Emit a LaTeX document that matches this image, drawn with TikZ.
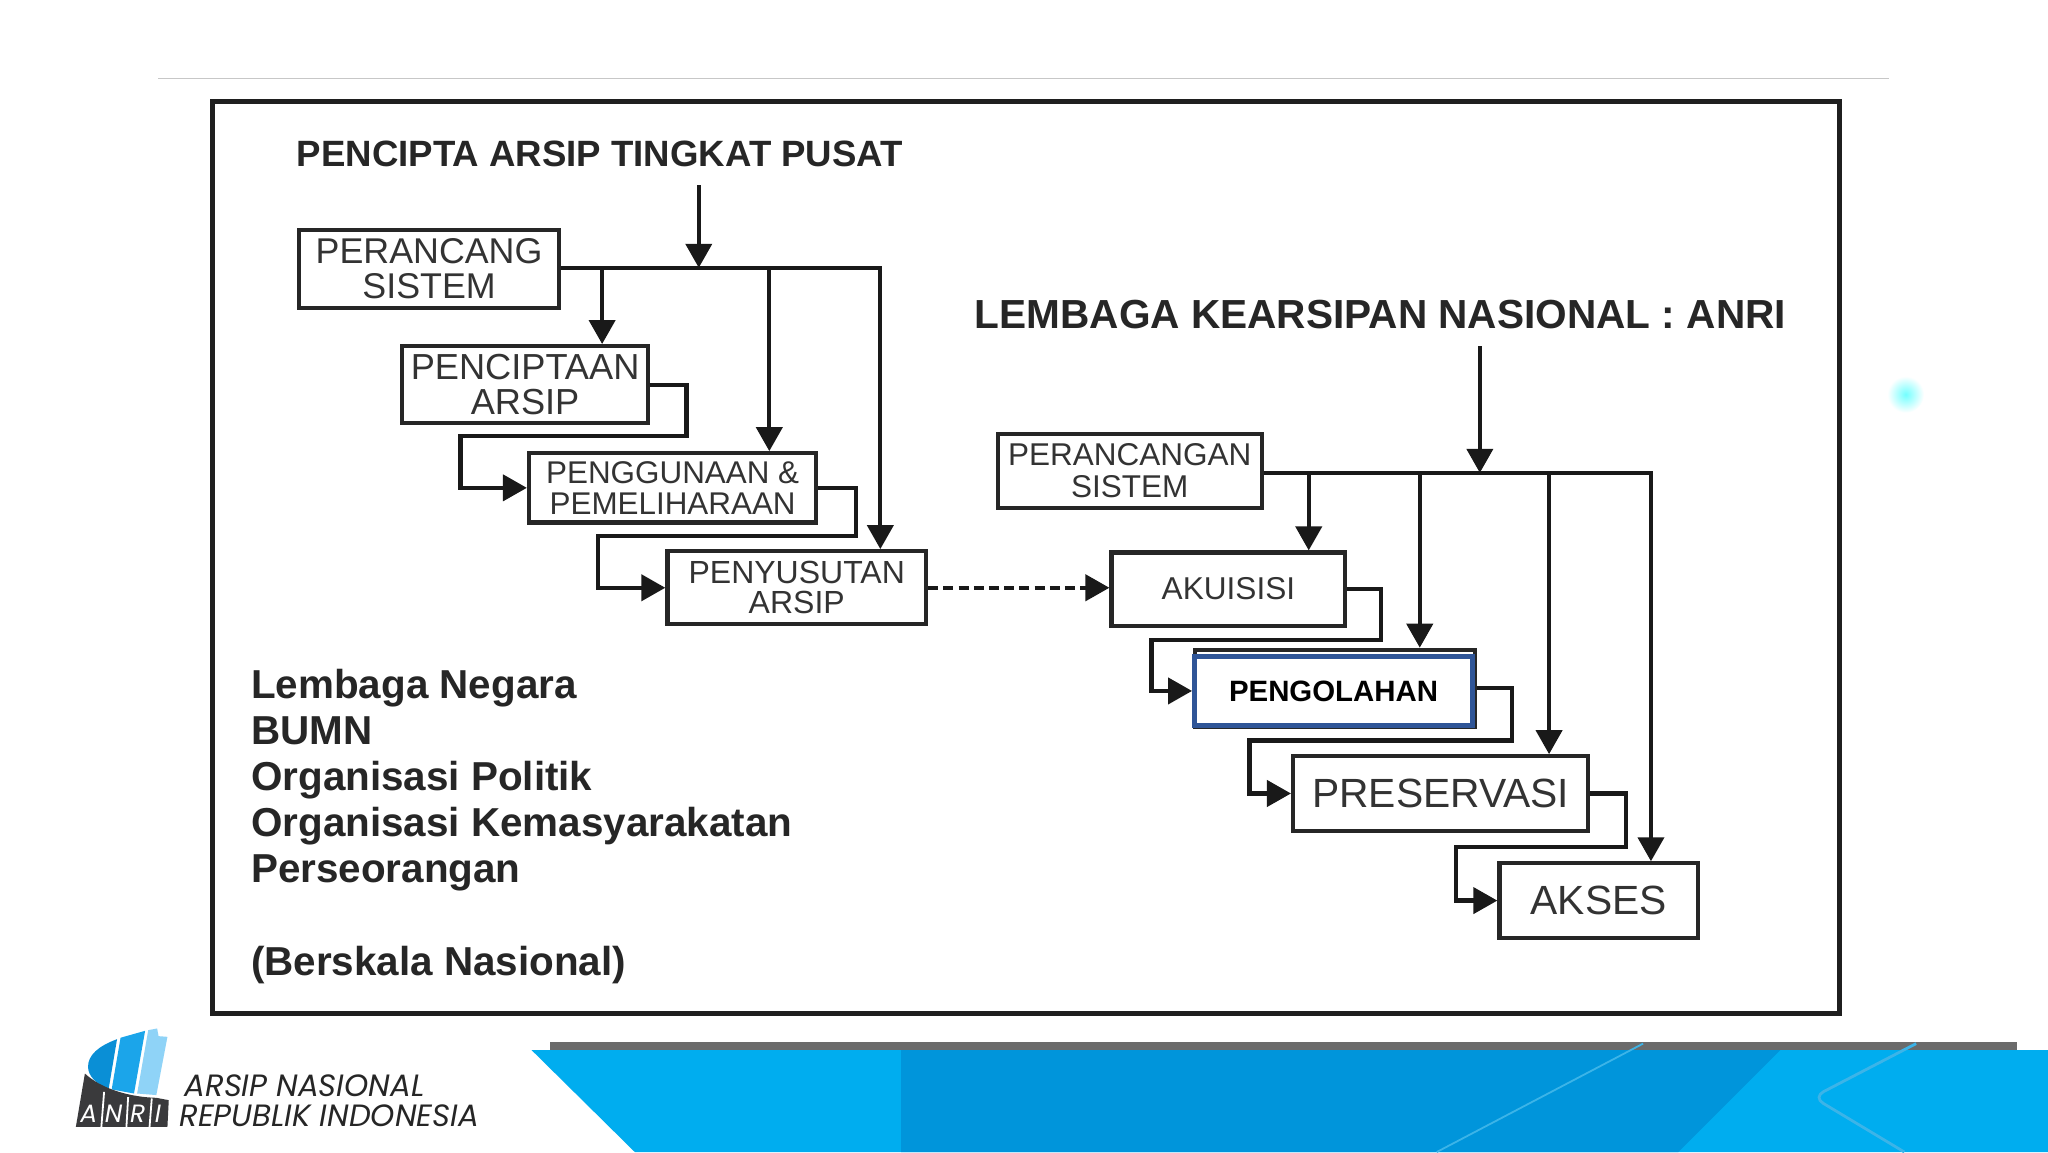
\documentclass[tikz,border=0pt]{standalone}
\usepackage{fontspec}
\setmainfont{Liberation Sans}
\newfontfamily\logofont{Poppins}
\usetikzlibrary{arrows.meta}
\definecolor{inkBox}{HTML}{333333}
\definecolor{inkBold}{HTML}{262626}
\definecolor{sBlue}{HTML}{00ADEF}
\definecolor{sDeep}{HTML}{0095DB}
\definecolor{sLine}{HTML}{3CB4E8}
\definecolor{sStrip}{HTML}{6B6B6B}
\definecolor{sEdge}{HTML}{2F5597}
\definecolor{logoA}{HTML}{0A8FD6}
\definecolor{logoB}{HTML}{1BA5EA}
\definecolor{logoC}{HTML}{8FD3F7}
\definecolor{logoD}{HTML}{3A3A3C}
\def\upx{0.65306pt}
\newcommand{\fs}[2]{\fontsize{#1}{#2}\selectfont}

\begin{document}
\begin{tikzpicture}[x=0.65306pt, y=-0.65306pt,
  box/.style 2 args={draw=black!85, line width=2.1pt, fill=white, inner sep=0pt, align=center, text=inkBox, minimum width=#1*\upx, minimum height=#2*\upx},
  head/.style={font=\bfseries\fs{18.3}{20}, text=inkBold, inner sep=0pt, anchor=west},
  arr/.style={-{Triangle[length=12pt, width=13pt]}, draw=black!90, line width=2.1pt},
  logoletter/.style={font=\logofont\itshape\fs{12.5}{14}, text=white, inner sep=0pt},
  logotext/.style={font=\logofont\itshape\fs{15.4}{17}, text=black!85, inner sep=0pt, anchor=west}]
\useasboundingbox (0,0) rectangle (1568,882);
\fill[white] (0,0) rectangle (1568,882);
\draw[black!22, line width=0.8pt] (121,60) -- (1446,60);
\draw[black!88, line width=2.5pt] (162.5,78) rectangle (1408.5,776);
\shade[inner color=cyan!55, outer color=white] (1459,302) circle (14);

% left group
\node[head] (pusat) at (227,118) {PENCIPTA ARSIP TINGKAT PUSAT};
\node[box={199}{60}, font=\fs{17.9}{17.6}] (rancang) at (328.5,206) {PERANCANG\\SISTEM};
\node[box={188}{59}, font=\fs{18.1}{17.6}] (cipta) at (402,294.5) {PENCIPTAAN\\ARSIP};
\node[box={220}{53}, font=\fs{15.7}{15.6}] (guna) at (515,373.5) {PENGGUNAAN \&\\PEMELIHARAAN};
\node[box={198}{56}, font=\fs{16}{15}] (susut) at (610,450) {PENYUSUTAN\\ARSIP};
\coordinate (inA) at (535,142);
\coordinate (busA) at (535,205);
\coordinate (busB) at (461,205);
\coordinate (busC) at (589,205);
\coordinate (busD) at (674,205);
\draw[arr] (inA) -- (busA);
\draw[arr] (rancang.east |- busD) -- (busD) -- (busD |- susut.north);
\draw[arr] (busB) -- (busB |- cipta.north);
\draw[arr] (busC) -- (busC |- guna.north);
\draw[arr] (cipta.east) -- ++(28,0) -- ++(0,39) -- ++(-173,0) |- (guna.west);
\draw[arr] (guna.east) -- ++(29,0) -- ++(0,37) -- ++(-198,0) |- (susut.west);

\node[head, font=\bfseries\fs{20.2}{23.05}, align=left, anchor=north west] (list) at (192,512) {Lembaga Negara\\BUMN\\Organisasi Politik\\Organisasi Kemasyarakatan\\Perseorangan\\ \\(Berskala Nasional)};

% right group
\node[head, font=\bfseries\fs{20.3}{22}] (anri) at (746,241) {LEMBAGA KEARSIPAN NASIONAL : ANRI};
\node[box={202}{57}, font=\fs{15.75}{16}] (rancangan) at (865,360.5) {PERANCANGAN\\SISTEM};
\node[box={179}{56}, font=\fs{15.8}{16}] (akuisisi) at (940.5,451) {AKUISISI};
\node[box={214}{59}] (olahback) at (1022,527) {};
\node[box={213}{53}, draw=sEdge, line width=2.4pt, text=black, font=\bfseries\fs{14.7}{16}] (olah) at (1021,529) {PENGOLAHAN};
\node[box={226}{57}, font=\fs{20.4}{20}] (preservasi) at (1103,607.5) {PRESERVASI};
\node[box={152}{57}, font=\fs{20.4}{20}] (akses) at (1224,689.5) {AKSES};
\coordinate (inB) at (1133,265);
\coordinate (busE) at (1133,362);
\coordinate (busF) at (1002,362);
\coordinate (busG) at (1087,362);
\coordinate (busH) at (1186,362);
\coordinate (busI) at (1264,362);
\draw[arr] (inB) -- (busE);
\draw[arr] (rancangan.east |- busI) -- (busI) -- (busI |- akses.north);
\draw[arr] (busF) -- (busF |- akuisisi.north);
\draw[arr] (busG) -- (busG |- olahback.north);
\draw[arr] (busH) -- (busH |- preservasi.north);
\draw[arr] (akuisisi.east) -- ++(26,0) -- ++(0,39) -- ++(-176,0) |- (olah.west);
\draw[arr] (olahback.east) -- ++(27,0) -- ++(0,40) -- ++(-201,0) |- (preservasi.west);
\draw[arr] (preservasi.east) -- ++(27,0) -- ++(0,41) -- ++(-130,0) |- (akses.west);
\draw[arr, dash pattern=on 5pt off 2.6pt] (susut.east) -- (akuisisi.west |- susut.east);

% footer band
\fill[sStrip] (421,798) rectangle (1544,804);
\fill[sBlue] (407,804) -- (486,882) -- (1568,882) -- (1568,804) -- cycle;
\fill[sDeep] (690,804) -- (1363,804) -- (1285,882) -- (690,882) -- cycle;
\draw[sLine, line width=0.9pt] (1258,799) -- (1100,882);
\draw[sLine, line width=1.4pt, rounded corners=6pt] (1467,799) -- (1388,840) -- (1458,882);

% logo
\fill[logoA] (89.6,795.6) .. controls (75,801) and (67.4,808) .. (67.4,816.7) .. controls (67.4,824) and (74,830) .. (83.1,834.1) -- cycle;
\fill[logoB] (92.3,794.5) -- (111.1,789.2) -- (102.6,837.2) -- (85.5,834.1) -- cycle;
\fill[logoC] (113.5,788.7) -- (120.3,787.4) -- (121.4,793.3) -- (128.2,793.8) -- (119.7,838.4) -- (105,837.2) -- cycle;
\fill[logoD] (65,821.9) -- (58.1,862.7) -- (128.2,862.7) -- (129.2,842.3) -- (119.7,840.5) .. controls (100,840) and (78,834) .. (65,821.9) -- cycle;
\draw[white, line width=0.9pt] (79.7,836) -- (77.6,862.7);
\draw[white, line width=0.9pt] (98.1,840) -- (96.8,862.7);
\draw[white, line width=0.9pt] (116.2,841) -- (114.5,862.7);
\node[logoletter] (lA) at (68,853) {A};
\node[logoletter] (lN) at (87,853) {N};
\node[logoletter] (lR) at (105.5,853) {R};
\node[logoletter] (lI) at (121,853) {I};
\node[logotext] (lNas) at (141,831) {ARSIP NASIONAL};
\node[logotext] (lRep) at (137,854) {REPUBLIK INDONESIA};
\end{tikzpicture}
\end{document}
